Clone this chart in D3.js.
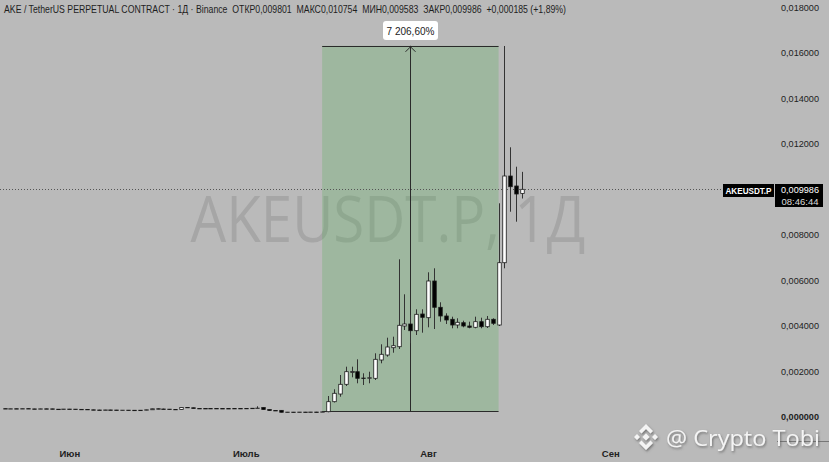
<!DOCTYPE html>
<html><head><meta charset="utf-8">
<script src="https://cdn.jsdelivr.net/npm/d3@7"></script>
<style>
html,body{margin:0;padding:0;background:#bababa;}
svg{display:block;font-family:"Liberation Sans",Arial,sans-serif;}
</style>
</head><body>
<svg id="chart" width="829" height="462"></svg>
<script>
// ---------- DATA ----------
const firstDay = "2025-05-21";           // first daily candle
const openP = [
0.000345,0.000340,0.000342,0.000338,0.000346,0.000334,0.000330,0.000338,0.000336,0.000320,
0.000318,0.000326,0.000322,0.000314,0.000312,0.000294,0.000286,0.000282,0.000288,0.000284,
0.000276,0.000278,0.000274,0.000272,0.000276,0.000296,0.000340,0.000330,0.000322,0.000304,
0.000312,0.000400,0.000384,0.000352,0.000350,0.000346,0.000352,0.000348,0.000344,0.000348,
0.000352,0.000350,0.000356,0.000362,0.000395,0.000304,0.000262,0.000270,0.000186,0.000192,
0.000188,0.000194,0.000190,0.000196,0.000200,
0.000211,0.000651,0.000989,0.001415,0.001934,0.001969,0.001690,0.001680,0.001679,0.002484,
0.002703,0.003024,0.003068,0.003978,0.004066,0.003771,0.004505,0.004343,0.005956,0.004800,
0.004418,0.004273,0.004022,0.004123,0.003978,0.003921,0.004167,0.003947,0.004273,0.004022,
0.006760,0.010571,0.010132,0.009801];
const highP = [
0.000350,0.000348,0.000350,0.000352,0.000350,0.000340,0.000345,0.000345,0.000342,0.000328,
0.000330,0.000334,0.000330,0.000322,0.000318,0.000300,0.000296,0.000292,0.000296,0.000290,
0.000284,0.000286,0.000282,0.000280,0.000300,0.000345,0.000350,0.000345,0.000330,0.000318,
0.000410,0.000412,0.000392,0.000362,0.000358,0.000356,0.000360,0.000356,0.000352,0.000358,
0.000360,0.000362,0.000370,0.000450,0.000405,0.000310,0.000270,0.000276,0.000200,0.000200,
0.000198,0.000202,0.000200,0.000204,0.000215,
0.000901,0.001196,0.001824,0.002189,0.002189,0.002514,0.001899,0.001969,0.002778,0.003174,
0.003464,0.003508,0.006910,0.005371,0.004462,0.004712,0.004712,0.006338,0.006514,0.005020,
0.004536,0.004387,0.004316,0.004211,0.004167,0.004387,0.004343,0.004418,0.004316,0.009371,
0.016286,0.011833,0.010980,0.010754];
const lowP = [
0.000335,0.000335,0.000336,0.000334,0.000330,0.000326,0.000325,0.000330,0.000318,0.000312,
0.000314,0.000318,0.000310,0.000306,0.000290,0.000280,0.000278,0.000276,0.000280,0.000272,
0.000270,0.000270,0.000266,0.000264,0.000272,0.000294,0.000320,0.000318,0.000300,0.000300,
0.000308,0.000380,0.000350,0.000344,0.000340,0.000340,0.000342,0.000338,0.000336,0.000342,
0.000344,0.000344,0.000350,0.000356,0.000300,0.000256,0.000250,0.000180,0.000178,0.000182,
0.000180,0.000184,0.000182,0.000186,0.000195,
0.000185,0.000615,0.000870,0.001340,0.001723,0.001459,0.001385,0.001459,0.001604,0.002338,
0.002629,0.002804,0.002967,0.003802,0.003218,0.003582,0.003684,0.003921,0.003846,0.004167,
0.004066,0.003877,0.003877,0.003921,0.003877,0.003877,0.003877,0.003890,0.004022,0.003978,
0.006514,0.009002,0.008563,0.009583];
const closeP = [
0.000340,0.000342,0.000338,0.000346,0.000334,0.000330,0.000338,0.000336,0.000320,0.000318,
0.000326,0.000322,0.000314,0.000312,0.000294,0.000286,0.000282,0.000288,0.000284,0.000276,
0.000278,0.000274,0.000272,0.000276,0.000296,0.000340,0.000330,0.000322,0.000304,0.000312,
0.000400,0.000384,0.000352,0.000350,0.000346,0.000352,0.000348,0.000344,0.000348,0.000352,
0.000350,0.000356,0.000362,0.000368,0.000304,0.000262,0.000258,0.000186,0.000192,0.000188,
0.000194,0.000190,0.000196,0.000192,0.000205,
0.000651,0.001020,0.001415,0.001969,0.001978,0.001679,0.001680,0.001705,0.002514,0.002734,
0.003055,0.003112,0.004009,0.004066,0.003771,0.004492,0.004360,0.005956,0.004800,0.004418,
0.004242,0.004022,0.004141,0.003978,0.003921,0.004167,0.003947,0.004273,0.004097,0.006760,
0.010571,0.010101,0.009780,0.009986];

const priceTicks = [0,0.002,0.004,0.006,0.008,0.010,0.012,0.014,0.016,0.018];
const monthTicks = ["2025-06-01","2025-07-01","2025-08-01","2025-09-01"];
const monthLabels = ["Июн","Июль","Авг","Сен"];

const headerText = "AKE / TetherUS PERPETUAL CONTRACT · 1Д · Binance  ОТКР0,009801  МАКС0,010754  МИН0,009583  ЗАКР0,009986  +0,000185 (+1,89%)";
const symbolLabel = "AKEUSDT.P";
const watermarkText = "AKEUSDT.P, 1Д";
const lastPrice = 0.009986;
const countdown = "08:46:44";
// price range measurement (date range / price range tool)
const measureFrom = "2025-07-14", measureTo = "2025-08-13";
const measureLow = 0.000223, measureHigh = 0.016294;
const measureLabel = "7 206,60%";
const author = "@ Crypto Tobi";

// ---------- SCALES ----------
const parse = d3.utcParse("%Y-%m-%d");
const start = parse(firstDay);
const candles = openP.map((o,i)=>({date:d3.utcDay.offset(start,i),o,h:highP[i],l:lowP[i],c:closeP[i]}));

const x = d3.scaleUtc().domain([parse("2025-06-01"),parse("2025-09-01")]).range([69.3,610.3]);
const y = d3.scaleLinear().domain([0,0.018]).range([416.5,7]);
const loc = d3.formatLocale({decimal:",",thousands:" ",grouping:[3],currency:["",""]});
const fmt = loc.format(".6f");

const svg = d3.select("#chart");
svg.append("rect").attr("width",829).attr("height",462).attr("fill","#bababa");

const defs = svg.append("defs");
const f = defs.append("filter").attr("id","sh").attr("x","-20%").attr("y","-40%").attr("width","140%").attr("height","180%");
f.append("feDropShadow").attr("dx",1).attr("dy",1.5).attr("stdDeviation",1.2).attr("flood-color","#555").attr("flood-opacity",0.7);

// watermark
svg.append("text").attr("x",388).attr("y",242).attr("text-anchor","middle")
  .attr("font-family","'Open Sans','Liberation Sans',sans-serif").attr("font-size",64)
  .attr("textLength",395).attr("lengthAdjust","spacingAndGlyphs")
  .attr("fill","#a6a6a6").text(watermarkText);

// measure area
const mx0 = x(parse(measureFrom)), mx1 = x(parse(measureTo));
const my0 = y(measureHigh), my1 = y(measureLow);
svg.append("rect").attr("x",mx0).attr("y",my0).attr("width",mx1-mx0).attr("height",my1-my0)
  .attr("fill","#4caf50").attr("fill-opacity",0.25);
const mg = svg.append("g").attr("stroke","#2a2a2a").attr("stroke-width",1).attr("fill","none");
mg.append("line").attr("x1",mx0).attr("x2",mx1).attr("y1",Math.round(my0)+0.5).attr("y2",Math.round(my0)+0.5);
mg.append("line").attr("x1",mx0).attr("x2",mx1).attr("y1",Math.round(my1)+0.5).attr("y2",Math.round(my1)+0.5);
const mmid = Math.round((mx0+mx1)/2)+0.5;
mg.append("line").attr("x1",mmid).attr("x2",mmid).attr("y1",my0).attr("y2",my1);
mg.append("path").attr("d",`M${mmid-5},${my0+6}L${mmid},${my0+1}L${mmid+5},${my0+6}`);

// last price dotted line
const yl = Math.round(y(lastPrice))+0.5;
svg.append("line").attr("x1",0).attr("x2",723).attr("y1",yl).attr("y2",yl)
  .attr("stroke","#555").attr("stroke-dasharray","1,2");

// candles
const bw = 3.5;
const cg = svg.append("g");
cg.selectAll("line.w").data(candles).join("line").attr("class","w")
  .attr("x1",d=>Math.round(x(d.date))+0.5).attr("x2",d=>Math.round(x(d.date))+0.5)
  .attr("y1",d=>y(d.h)).attr("y2",d=>y(d.l)).attr("stroke","#333").attr("stroke-width",1);
cg.selectAll("rect.b").data(candles).join("rect").attr("class","b")
  .attr("x",d=>Math.round(x(d.date))+0.5-bw/2)
  .attr("y",d=>y(Math.max(d.o,d.c)))
  .attr("width",bw)
  .attr("height",d=>Math.max(0.4,Math.abs(y(d.o)-y(d.c))))
  .attr("fill",d=>d.c>=d.o?"#ffffff":"#000000")
  .attr("stroke","#1a1a1a").attr("stroke-width",0.8);

// header
svg.append("text").attr("x",4).attr("y",13).attr("font-size",11).attr("fill","#1e1e1e")
  .attr("textLength",562).attr("lengthAdjust","spacingAndGlyphs")
  .style("white-space","pre").text(headerText);

// measure label
svg.append("rect").attr("x",383).attr("y",21).attr("width",55).attr("height",19).attr("rx",3)
  .attr("fill","#ffffff");
svg.append("text").attr("x",mmid).attr("y",34.5).attr("text-anchor","middle").attr("font-size",10)
  .attr("fill","#222").text(measureLabel);

// price axis
const tagY = y(lastPrice);
const yAxis = d3.axisRight(y).tickValues(priceTicks.filter(v=>Math.abs(y(v)-tagY)>14))
  .tickFormat(fmt).tickSize(0).tickPadding(0);
const ya = svg.append("g").attr("transform","translate(781,0)").call(yAxis);
ya.select(".domain").remove();
ya.selectAll("text").attr("font-size",9.5).attr("fill","#222").attr("font-family","'Liberation Sans',Arial,sans-serif")
  .attr("textLength",38).attr("lengthAdjust","spacingAndGlyphs")
  .attr("font-weight",d=>d===0?"bold":"normal");

// time axis
const xAxis = d3.axisBottom(x).tickValues(monthTicks.map(parse))
  .tickFormat((d,i)=>monthLabels[i]).tickSize(0).tickPadding(0);
const xa = svg.append("g").attr("transform","translate(0,450)").call(xAxis);
xa.select(".domain").remove();
xa.selectAll("text").attr("font-size",9.5).attr("font-weight","bold").attr("fill","#222")
  .attr("font-family","'Liberation Sans',Arial,sans-serif");

// symbol label & price tag
svg.append("rect").attr("x",723).attr("y",184).attr("width",51).attr("height",13).attr("fill","#000");
svg.append("text").attr("x",748.5).attr("y",194.3).attr("text-anchor","middle").attr("font-size",9.5)
  .attr("font-weight","bold")
  .attr("fill","#fff").attr("textLength",46).attr("lengthAdjust","spacingAndGlyphs").text(symbolLabel);
svg.append("rect").attr("x",775).attr("y",184).attr("width",48).attr("height",23).attr("fill","#000");
svg.append("text").attr("x",781).attr("y",193).attr("font-size",9.5).attr("fill","#fff")
  .attr("textLength",38).attr("lengthAdjust","spacingAndGlyphs").text(fmt(lastPrice));
svg.append("text").attr("x",781.5).attr("y",204.5).attr("font-size",9).attr("fill","#ddd")
  .attr("textLength",37).attr("lengthAdjust","spacingAndGlyphs").text(countdown);

// author watermark
svg.append("line").attr("x1",777).attr("x2",829).attr("y1",441.5).attr("y2",441.5).attr("stroke","#777");
const lg = svg.append("g").attr("filter","url(#sh)").attr("fill","#f4f4f4");
const cx0 = 646, cy0 = 437;
const dia = (cx,cy,r)=>`M${cx},${cy-r}L${cx+r},${cy}L${cx},${cy+r}L${cx-r},${cy}Z`;
lg.append("path").attr("d",
  dia(cx0,cy0,3.6)+dia(cx0-9,cy0,3)+dia(cx0+9,cy0,3)+
  `M${cx0},${cy0-13}L${cx0+7},${cy0-6}L${cx0+4.5},${cy0-3.5}L${cx0},${cy0-8}L${cx0-4.5},${cy0-3.5}L${cx0-7},${cy0-6}Z`+
  `M${cx0},${cy0+13}L${cx0+7},${cy0+6}L${cx0+4.5},${cy0+3.5}L${cx0},${cy0+8}L${cx0-4.5},${cy0+3.5}L${cx0-7},${cy0+6}Z`);
lg.append("text").attr("x",666).attr("y",446).attr("font-family","'Open Sans','Noto Sans',sans-serif")
  .attr("font-size",22.5).attr("textLength",154).attr("lengthAdjust","spacingAndGlyphs").text(author);
</script>
</body></html>
